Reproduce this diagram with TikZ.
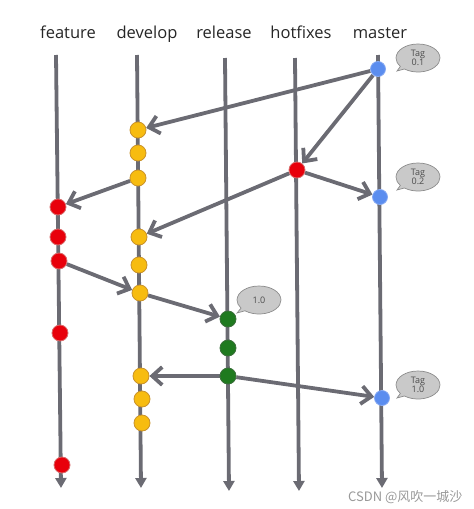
\documentclass[tikz,border=0pt]{standalone}
\usepackage{fontspec}
\setmainfont{Open Sans}
\newfontfamily\cjkfont{Noto Sans CJK SC}
\usetikzlibrary{arrows.meta,shapes.callouts,backgrounds}
\definecolor{lanegray}{HTML}{6B6B73}
\definecolor{cblue}{HTML}{5B8DEF}
\definecolor{cblueb}{HTML}{86A9F2}
\definecolor{cyellow}{HTML}{F7BC10}
\definecolor{cyellowb}{HTML}{C9922A}
\definecolor{cred}{HTML}{E8000B}
\definecolor{credb}{HTML}{D86A6A}
\definecolor{cgreen}{HTML}{1F7A1F}
\definecolor{cgreenb}{HTML}{3A6E3A}
\definecolor{bubfill}{HTML}{C9C9C9}
\definecolor{bubdraw}{HTML}{8C8C8C}
\tikzset{
  commit/.style={circle, minimum size=16pt, inner sep=0pt, line width=0.8pt},
  bluec/.style={commit, fill=cblue, draw=cblueb, minimum size=15pt},
  yellowc/.style={commit, fill=cyellow, draw=cyellowb},
  redc/.style={commit, fill=cred, draw=credb},
  greenc/.style={commit, fill=cgreen, draw=cgreenb},
  lane/.style={draw=lanegray, line width=3.8pt, -{Triangle[length=10pt,width=11pt]}},
  merge/.style={draw=lanegray, line width=3.8pt, -{Straight Barb[length=10pt,width=18pt]}},
  lanelabel/.style={anchor=base, font=\fontsize{16.5}{18}\selectfont, text=black!85},
  tagbubble/.style={ellipse callout, fill=bubfill, draw=bubdraw, line width=0.7pt,
     minimum width=44pt, minimum height=28pt, inner sep=0pt, align=center,
     font=\fontsize{9}{9.5}\selectfont, text=black!70},
}
\begin{document}
\begin{tikzpicture}[x=1pt,y=-1pt]
\useasboundingbox (0,0) rectangle (474,509);
% labels
\node[lanelabel] (lf) at (68,38) {feature};
\node[lanelabel] (ld) at (147,38) {develop};
\node[lanelabel] (lr) at (224,38) {release};
\node[lanelabel] (lh) at (301,38) {hotfixes};
\node[lanelabel] (lm) at (380,38) {master};
% lane ends
\coordinate (ft) at (56,55);  \coordinate (fb) at (61,488);
\coordinate (dt) at (137,55); \coordinate (db) at (141,488);
\coordinate (rt) at (225,58); \coordinate (rb) at (229,491);
\coordinate (ht) at (295,58); \coordinate (hb) at (299,491);
\coordinate (mt) at (378,55); \coordinate (mb) at (382,488);
% commits
\node[bluec] (m1) at (378,69) {};
\node[bluec] (m2) at (380,197) {};
\node[bluec] (m3) at (382,398) {};
\node[yellowc] (d1) at (138,130) {};
\node[yellowc] (d2) at (138,153) {};
\node[yellowc] (d3) at (138,178) {};
\node[yellowc] (d4) at (139,237) {};
\node[yellowc] (d5) at (139,265) {};
\node[yellowc] (d6) at (140,293) {};
\node[yellowc] (d7) at (141,376) {};
\node[yellowc] (d8) at (142,399) {};
\node[yellowc] (d9) at (142,423) {};
\node[redc] (f1) at (58,207) {};
\node[redc] (f2) at (58,237) {};
\node[redc] (f3) at (59,261) {};
\node[redc] (f4) at (60,333) {};
\node[redc] (f5) at (62,465) {};
\node[redc] (h1) at (297,170) {};
\node[greenc] (r1) at (228,319) {};
\node[greenc] (r2) at (228,348) {};
\node[greenc] (r3) at (228,376) {};
% tags
\node[tagbubble, callout absolute pointer={(397,71)}] (t1) at (418,58) {Tag\\0.1};
\node[tagbubble, callout absolute pointer={(397,190)}] (t2) at (418,177) {Tag\\0.2};
\node[tagbubble, callout absolute pointer={(237,313)}] (t3) at (259,300) {1.0};
\node[tagbubble, callout absolute pointer={(397,398)}] (t4) at (418,385) {Tag\\1.0};
% watermark
\node[anchor=base east, font=\cjkfont\fontsize{13}{14}\selectfont, text=black!40] (wm) at (466,501) {CSDN @风吹一城沙};
\begin{scope}[on background layer]
  \draw[lane] (ft) -- (fb);
  \draw[lane] (dt) -- (db);
  \draw[lane] (rt) -- (rb);
  \draw[lane] (ht) -- (hb);
  \draw[lane] (mt) -- (mb);
  \draw[merge] (m1) -- (d1);
  \draw[merge] (m1) -- (h1);
  \draw[merge] (h1) -- (m2);
  \draw[merge] (h1) -- (d4);
  \draw[merge] (d3) -- (f1);
  \draw[merge] (f3) -- (d6);
  \draw[merge] (d6) -- (r1);
  \draw[merge] (r3) -- (d7);
  \draw[merge] (r3) -- (m3);
\end{scope}
\end{tikzpicture}
\end{document}
